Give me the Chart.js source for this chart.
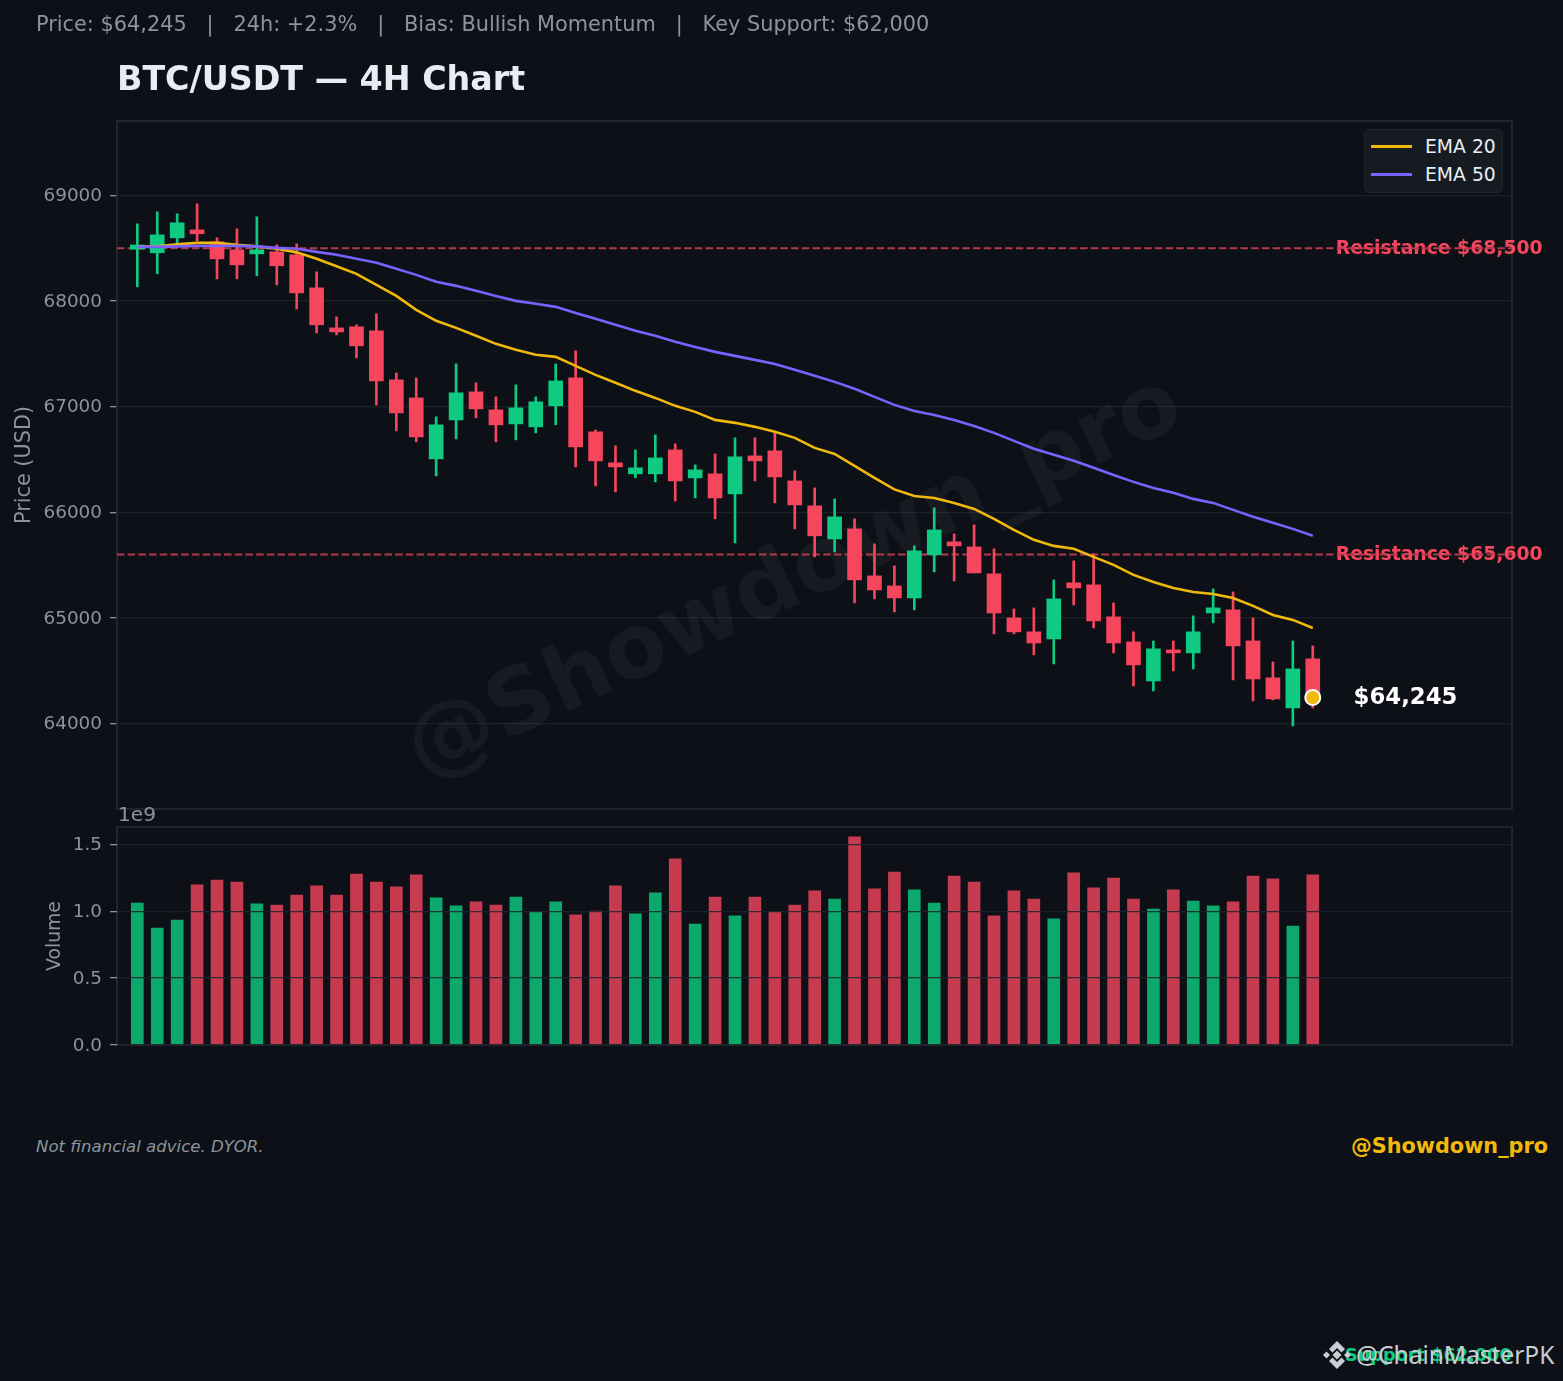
<!DOCTYPE html>
<html>
<head>
<meta charset="utf-8">
<title>BTC/USDT 4H</title>
<script src="https://cdn.jsdelivr.net/npm/chart.js@4/dist/chart.umd.min.js"></script>
<style>
  html, body { margin: 0; padding: 0; background: #0d1117; }
  body { position: relative; width: 1563px; height: 1381px; overflow: hidden; font-family: "DejaVu Sans", sans-serif; }
  canvas { position: absolute; left: 0; }
  #priceChart { top: 0; }
  #volumeChart { top: 808px; }
  .txt { position: absolute; white-space: pre; line-height: 1; }
  #legend { position: absolute; left: 1364px; top: 129px; width: 139px; height: 64px; background: #161b22; border: 1.5px solid #21262d; border-radius: 5px; box-sizing: border-box; }
  #legend .row { position: absolute; left: 0; width: 100%; height: 20px; }
  #legend .swatch { position: absolute; left: 6px; top: 9px; width: 41px; height: 2.6px; }
  #legend .name { position: absolute; left: 60px; top: 2px; font-size: 18.8px; line-height: 1; color: #e6edf3; white-space: pre; }
</style>
</head>
<body>
<canvas id="priceChart" width="1563" height="828"></canvas>
<canvas id="volumeChart" width="1563" height="256"></canvas>
<div id="legend"></div>

<div class="txt" style="left:36px;top:14px;font-size:20.85px;color:#8b949e">Price: $64,245   |   24h: +2.3%   |   Bias: Bullish Momentum   |   Key Support: $62,000</div>
<div class="txt" style="left:117px;top:62px;font-size:33.3px;font-weight:bold;color:#e6edf3">BTC/USDT — 4H Chart</div>
<div class="txt" style="left:118px;top:804px;font-size:20.2px;color:#8b949e">1e9</div>
<div class="txt" style="left:36px;top:1139px;font-size:16.6px;font-style:italic;color:#8b949e">Not financial advice. DYOR.</div>
<div class="txt" style="right:15px;top:1136px;font-size:20.8px;font-weight:bold;color:#f0b90b">@Showdown_pro</div>
<div class="txt" style="left:1345px;top:1347px;font-size:17.7px;font-weight:bold;color:#0ecb81">Support $62,000</div>
<svg style="position:absolute;left:1322px;top:1340px" width="30" height="30" viewBox="0 0 30 30">
  <g fill="#c9ced4">
    <path d="M15 1l8 8-3.5 3.5-4.5-4.5-4.5 4.5-3.5-3.5z"/>
    <path d="M15 29l8-8-3.5-3.5-4.5 4.5-4.5-4.5-3.5 3.5z"/>
    <path d="M1 15l3.5-3.5 3.5 3.5-3.5 3.5z"/>
    <path d="M22 15l3.5-3.5 3.5 3.5-3.5 3.5z"/>
    <path d="M15 10.5l4.5 4.5-4.5 4.5-4.5-4.5z"/>
  </g>
</svg>
<div class="txt" style="left:1356px;top:1343px;font-size:24.5px;font-family:'Noto Sans';color:#c9ced4">@ChainMasterPK</div>

<script>
const candleIndex = [...Array(60).keys()];

const opens = [68490,68456,68598,68673,68560,68484,68446,68465,68437,68124,67745,67755,67717,67253,67082,66505,66874,67139,66969,66836,
  66808,67007,67272,66761,66467,66363,66363,66590,66325,66363,66173,66533,66581,66296,66060,65747,65842,65397,65302,65188,
  65596,65719,65671,65416,64999,64867,64800,65331,65312,65009,64772,64402,64696,64668,65046,65075,64781,64431,64147,64611];
const highs = [68730,68844,68825,68920,68598,68683,68797,68531,68541,68276,67850,67774,67878,67319,67272,66903,67404,67225,67092,67206,
  67092,67404,67528,66779,66628,66590,66732,66647,66448,66552,66704,66704,66751,66391,66230,66126,65937,65700,65492,65681,
  66041,65795,65880,65653,65084,65094,65359,65539,65605,65141,64867,64781,64781,65018,65274,65245,64999,64582,64781,64734];
const lows = [68134,68257,68550,68569,68209,68209,68238,68153,67925,67698,67679,67461,67016,66770,66666,66344,66694,66893,66666,66685,
  66751,66827,66429,66249,66192,66325,66287,66107,66135,65937,65709,66296,66088,65842,65577,65624,65141,65179,65056,65075,
  65435,65349,65425,64848,64848,64649,64563,65122,64904,64668,64355,64308,64497,64516,64952,64412,64213,64223,63976,64147];
const closes = [68530,68626,68740,68636,68399,68342,68484,68333,68077,67774,67707,67575,67243,66940,66713,66827,67130,66978,66827,66988,
  67045,67243,66618,66486,66429,66420,66514,66296,66401,66135,66524,66486,66334,66069,65776,65956,65359,65264,65188,65634,
  65832,65681,65425,65046,64867,64762,65179,65283,64971,64762,64554,64706,64668,64867,65094,64734,64421,64232,64516,64245];

const ema20 = [68512,68517,68536,68550,68550,68531,68517,68494,68460,68399,68328,68257,68153,68048,67916,67812,67745,67670,67594,67537,
  67490,67471,67385,67300,67225,67149,67082,67007,66950,66874,66846,66808,66761,66704,66609,66552,66439,66325,66216,66154,
  66135,66088,66031,65937,65832,65738,65681,65653,65577,65501,65406,65340,65283,65245,65226,65188,65113,65027,64980,64904];
const ema50 = [68512,68512,68517,68522,68522,68522,68517,68503,68494,68465,68437,68399,68361,68304,68247,68181,68143,68096,68048,68001,
  67973,67944,67887,67831,67774,67717,67670,67613,67565,67518,67480,67442,67404,67348,67291,67234,67168,67092,67016,66959,
  66921,66874,66817,66751,66675,66600,66543,66486,66420,66353,66287,66230,66183,66126,66088,66022,65956,65899,65842,65776];

// volume in units of 1e9
const volumes = [1.062,0.875,0.935,1.197,1.234,1.219,1.055,1.047,1.122,1.190,1.122,1.279,1.219,1.182,1.272,1.100,1.040,1.070,1.047,1.107,
  0.995,1.070,0.973,1.002,1.190,0.980,1.137,1.392,0.905,1.107,0.965,1.107,0.995,1.047,1.152,1.092,1.556,1.167,1.294,1.160,
  1.062,1.264,1.219,0.965,1.152,1.092,0.943,1.287,1.175,1.249,1.092,1.017,1.160,1.077,1.040,1.070,1.264,1.242,0.890,1.272];

const priceTicks = [64000,65000,66000,67000,68000,69000];
const volumeTicks = [0,0.5,1.0,1.5];
const resistanceLevels = [68500,65600];
const lastPrice = 64245;

const UP = "#0ecb81";
const DOWN = "#f6465d";
const UP_VOL = "#0ca86c";
const DOWN_VOL = "#c63b50";
const GOLD = "#f0b90b";
const PURPLE = "#7b61ff";
const MUTED = "#8b949e";
const FONT = "'DejaVu Sans', sans-serif";

Chart.defaults.font.family = FONT;
Chart.defaults.devicePixelRatio = 1;

const isUp = candleIndex.map((i) => closes[i] >= opens[i]);
const candleColors = isUp.map((up) => (up ? UP : DOWN));
const volumeColors = isUp.map((up) => (up ? UP_VOL : DOWN_VOL));

const xAxis = { type: "linear", min: -1.02, max: 69, offset: false, display: false };

const yAxis = (ticks, format, title, titlePad, size, extra) => ({
  type: "linear",
  afterFit: (axis) => { axis.width = 117; },
  afterBuildTicks: (axis) => { axis.ticks = ticks.map((value) => ({ value })); },
  border: { display: false },
  grid: Object.assign({ color: "#1c2128", lineWidth: 1.3, tickColor: MUTED, tickWidth: 1.3, tickLength: 7 }, extra),
  ticks: { color: MUTED, padding: 8, labelOffset: 1, font: { size: 18.4 }, callback: format },
  title: { display: true, text: title, color: MUTED, padding: { top: titlePad, bottom: 0 }, font: { size } },
});

// axes frame, goes under the marks and the labels
const spines = {
  id: "spines",
  beforeDatasetsDraw(chart) {
    const { ctx, chartArea: a } = chart;
    ctx.save();
    ctx.strokeStyle = "#21262d";
    ctx.lineWidth = 2;
    ctx.strokeRect(a.left, a.top, a.right - a.left, a.bottom - a.top);
    ctx.restore();
  },
};

const priceNotes = {
  id: "priceNotes",
  beforeDatasetsDraw(chart) {
    const { ctx, scales: { x, y } } = chart;
    ctx.save();
    ctx.translate(795, 580);
    ctx.rotate(-25 * Math.PI / 180);
    ctx.font = "bold 89px " + FONT;
    ctx.textAlign = "center";
    ctx.textBaseline = "middle";
    ctx.fillStyle = "rgba(255,255,255,0.045)";
    ctx.fillText("@Showdown_pro", 0, 0);
    ctx.restore();

    ctx.save();
    ctx.textBaseline = "middle";
    ctx.font = "bold 18.8px " + FONT;
    ctx.fillStyle = DOWN;
    resistanceLevels.forEach((level) => {
      const text = "Resistance $" + level.toLocaleString("en-US");
      ctx.fillText(text, x.getPixelForValue(60.15), y.getPixelForValue(level) + 1);
    });
    ctx.font = "bold 22.8px " + FONT;
    ctx.fillStyle = "#ffffff";
    ctx.fillText("$" + lastPrice.toLocaleString("en-US"), x.getPixelForValue(61.05), y.getPixelForValue(lastPrice) + 1);
    ctx.restore();
  },
};

const priceChart = new Chart(document.getElementById("priceChart"), {
  data: {
    datasets: [
      {
        type: "line", label: "Last", order: 0,
        data: [{ x: 59, y: lastPrice }],
        pointRadius: 7.5, pointBackgroundColor: GOLD, pointBorderColor: "#ffffff", pointBorderWidth: 2, showLine: false,
      },
      {
        type: "line", label: "EMA 50", order: 1,
        data: candleIndex.map((i) => ({ x: i, y: ema50[i] })),
        borderColor: PURPLE, borderWidth: 2.6, pointRadius: 0, tension: 0,
      },
      {
        type: "line", label: "EMA 20", order: 2,
        data: candleIndex.map((i) => ({ x: i, y: ema20[i] })),
        borderColor: GOLD, borderWidth: 2.6, pointRadius: 0, tension: 0,
      },
      {
        type: "bar", label: "Body", order: 3, grouped: false, barThickness: 14,
        data: candleIndex.map((i) => ({ x: i, y: [opens[i], closes[i]] })),
        backgroundColor: candleColors,
      },
      {
        type: "bar", label: "Wick", order: 4, grouped: false, barThickness: 2,
        data: candleIndex.map((i) => ({ x: i, y: [lows[i], highs[i]] })),
        backgroundColor: candleColors,
      },
      ...resistanceLevels.map((level, k) => ({
        type: "line", label: "Resistance " + level, order: 5 + k,
        data: [{ x: -1.02, y: level }, { x: 69, y: level }],
        borderColor: "#b5394b", borderWidth: 2, borderDash: [7.5, 3.2], pointRadius: 0,
      })),
    ],
  },
  options: {
    responsive: false,
    animation: false,
    layout: { padding: { top: 121, right: 51, bottom: 19, left: 0 } },
    plugins: { legend: { display: false }, tooltip: { enabled: false } },
    scales: {
      x: xAxis,
      y: Object.assign(yAxis(priceTicks, (v) => String(v), "Price (USD)", 12, 20.8), { min: 63190, max: 69704 }),
    },
  },
  plugins: [spines, priceNotes],
});

new Chart(document.getElementById("volumeChart"), {
  data: {
    datasets: [{
      type: "bar", label: "Volume", grouped: false, barThickness: 12,
      data: candleIndex.map((i) => ({ x: i, y: volumes[i] })),
      backgroundColor: volumeColors,
    }],
  },
  options: {
    responsive: false,
    animation: false,
    layout: { padding: { top: 19, right: 51, bottom: 19, left: 0 } },
    plugins: { legend: { display: false }, tooltip: { enabled: false } },
    scales: {
      x: xAxis,
      y: Object.assign(yAxis(volumeTicks, (v) => v.toFixed(1), "Volume", 44, 18.8, { z: 1, color: "rgba(30,36,43,0.86)" }), { min: 0, max: 1.63 }),
    },
  },
  plugins: [spines],
});

// legend box built from the EMA datasets
const legendBox = document.getElementById("legend");
["EMA 20", "EMA 50"].forEach((name, k) => {
  const ds = priceChart.data.datasets.find((d) => d.label === name);
  const row = document.createElement("div");
  row.className = "row";
  row.style.top = (6 + k * 28) + "px";
  row.innerHTML = `<div class="swatch" style="background:${ds.borderColor}"></div><div class="name">${name}</div>`;
  legendBox.appendChild(row);
});
</script>
</body>
</html>
